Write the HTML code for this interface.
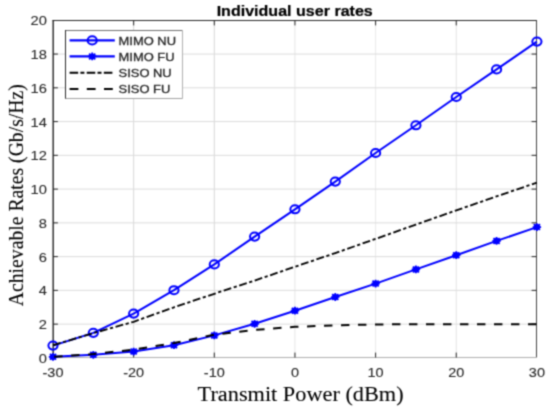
<!DOCTYPE html>
<html><head><meta charset="utf-8"><title>Individual user rates</title>
<style>html,body{margin:0;padding:0;background:#fff;width:550px;height:409px;overflow:hidden}svg{display:block}</style>
</head><body>
<svg width="550" height="409" viewBox="0 0 550 409">
<defs><filter id="bl" color-interpolation-filters="sRGB" x="0" y="0" width="550" height="409" filterUnits="userSpaceOnUse"><feConvolveMatrix order="3" kernelMatrix="1 3 1 3 9 3 1 3 1" divisor="25" edgeMode="duplicate"/></filter></defs>
<g filter="url(#bl)">
<rect width="550" height="409" fill="#fff"/>
<path d="M133.65 20.5V357.5" stroke="#d8d8d8" stroke-width="1"/>
<path d="M214.30 20.5V357.5" stroke="#d8d8d8" stroke-width="1"/>
<path d="M294.95 20.5V357.5" stroke="#e6e6e6" stroke-width="1"/>
<path d="M375.60 20.5V357.5" stroke="#ebebeb" stroke-width="1"/>
<path d="M456.25 20.5V357.5" stroke="#e4e4e4" stroke-width="1"/>
<path d="M53.0 324.14H536.5M53.0 290.38H536.5M53.0 256.62H536.5M53.0 222.86H536.5M53.0 189.10H536.5M53.0 155.34H536.5M53.0 121.58H536.5M53.0 87.82H536.5M53.0 54.06H536.5" stroke="#dcdcdc" stroke-width="1" fill="none"/>
<path d="M52.4 20.5H537.0" stroke="#2b2b2b" stroke-width="1"/>
<path d="M53.15 20.5V357.5" stroke="#000" stroke-width="1.2"/>
<path d="M536.5 20.5V357.5" stroke="#464646" stroke-width="1"/>
<path d="M53.0 357.5H536.5" stroke="#b1b1b1" stroke-width="1"/>
<path d="M133.65 357.5v-4.9M133.65 20.5v4.9M214.30 357.5v-4.9M214.30 20.5v4.9M294.95 357.5v-4.9M294.95 20.5v4.9M375.60 357.5v-4.9M375.60 20.5v4.9M456.25 357.5v-4.9M456.25 20.5v4.9M53.0 324.14h4.9M536.5 324.14h-4.9M53.0 290.38h4.9M536.5 290.38h-4.9M53.0 256.62h4.9M536.5 256.62h-4.9M53.0 222.86h4.9M536.5 222.86h-4.9M53.0 189.10h4.9M536.5 189.10h-4.9M53.0 155.34h4.9M536.5 155.34h-4.9M53.0 121.58h4.9M536.5 121.58h-4.9M53.0 87.82h4.9M536.5 87.82h-4.9M53.0 54.06h4.9M536.5 54.06h-4.9" stroke="#262626" stroke-width="1" fill="none"/>
<path d="M53.00 345.60 93.32 332.85 133.65 313.60 173.97 290.20 214.30 264.40 254.62 236.60 294.95 209.30 335.27 181.60 375.60 153.00 415.92 125.30 456.25 97.00 496.57 69.40 536.90 41.60" stroke="#0000ff" stroke-width="2" fill="none" stroke-linejoin="round"/>
<g stroke="#0000ff" stroke-width="2.0" fill="none"><ellipse cx="53.00" cy="345.60" rx="4.6" ry="4.05"/><ellipse cx="93.32" cy="332.85" rx="4.6" ry="4.05"/><ellipse cx="133.65" cy="313.60" rx="4.6" ry="4.05"/><ellipse cx="173.97" cy="290.20" rx="4.6" ry="4.05"/><ellipse cx="214.30" cy="264.40" rx="4.6" ry="4.05"/><ellipse cx="254.62" cy="236.60" rx="4.6" ry="4.05"/><ellipse cx="294.95" cy="209.30" rx="4.6" ry="4.05"/><ellipse cx="335.27" cy="181.60" rx="4.6" ry="4.05"/><ellipse cx="375.60" cy="153.00" rx="4.6" ry="4.05"/><ellipse cx="415.92" cy="125.30" rx="4.6" ry="4.05"/><ellipse cx="456.25" cy="97.00" rx="4.6" ry="4.05"/><ellipse cx="496.57" cy="69.40" rx="4.6" ry="4.05"/><ellipse cx="536.90" cy="41.60" rx="4.6" ry="4.05"/></g>
<path d="M53.00 356.80 93.32 354.80 133.65 351.60 173.97 345.20 214.30 335.40 254.62 323.80 294.95 310.70 335.27 297.00 375.60 283.60 415.92 269.40 456.25 255.20 496.57 240.90 536.90 227.10" stroke="#0000ff" stroke-width="2" fill="none" stroke-linejoin="round"/>
<path d="M48.80 356.80h8.40M53.00 352.90v7.80M49.89 353.91L56.11 359.69M49.89 359.69L56.11 353.91M89.12 354.80h8.40M93.32 350.90v7.80M90.22 351.91L96.43 357.69M90.22 357.69L96.43 351.91M129.45 351.60h8.40M133.65 347.70v7.80M130.54 348.71L136.76 354.49M130.54 354.49L136.76 348.71M169.78 345.20h8.40M173.97 341.30v7.80M170.87 342.31L177.08 348.09M170.87 348.09L177.08 342.31M210.10 335.40h8.40M214.30 331.50v7.80M211.19 332.51L217.41 338.29M211.19 338.29L217.41 332.51M250.43 323.80h8.40M254.62 319.90v7.80M251.52 320.91L257.73 326.69M251.52 326.69L257.73 320.91M290.75 310.70h8.40M294.95 306.80v7.80M291.84 307.81L298.06 313.59M291.84 313.59L298.06 307.81M331.07 297.00h8.40M335.27 293.10v7.80M332.17 294.11L338.38 299.89M332.17 299.89L338.38 294.11M371.40 283.60h8.40M375.60 279.70v7.80M372.49 280.71L378.71 286.49M372.49 286.49L378.71 280.71M411.72 269.40h8.40M415.92 265.50v7.80M412.82 266.51L419.03 272.29M412.82 272.29L419.03 266.51M452.05 255.20h8.40M456.25 251.30v7.80M453.14 252.31L459.36 258.09M453.14 258.09L459.36 252.31M492.38 240.90h8.40M496.57 237.00v7.80M493.47 238.01L499.68 243.79M493.47 243.79L499.68 238.01M532.70 227.10h8.40M536.90 223.20v7.80M533.79 224.21L540.01 229.99M533.79 229.99L540.01 224.21" stroke="#0000ff" stroke-width="1.7" fill="none"/>
<g fill="#0000ff"><ellipse cx="53.00" cy="356.80" rx="3.3" ry="3.1"/><ellipse cx="93.32" cy="354.80" rx="3.3" ry="3.1"/><ellipse cx="133.65" cy="351.60" rx="3.3" ry="3.1"/><ellipse cx="173.97" cy="345.20" rx="3.3" ry="3.1"/><ellipse cx="214.30" cy="335.40" rx="3.3" ry="3.1"/><ellipse cx="254.62" cy="323.80" rx="3.3" ry="3.1"/><ellipse cx="294.95" cy="310.70" rx="3.3" ry="3.1"/><ellipse cx="335.27" cy="297.00" rx="3.3" ry="3.1"/><ellipse cx="375.60" cy="283.60" rx="3.3" ry="3.1"/><ellipse cx="415.92" cy="269.40" rx="3.3" ry="3.1"/><ellipse cx="456.25" cy="255.20" rx="3.3" ry="3.1"/><ellipse cx="496.57" cy="240.90" rx="3.3" ry="3.1"/><ellipse cx="536.90" cy="227.10" rx="3.3" ry="3.1"/></g>
<path d="M53.00 345.24 93.32 333.09 133.65 321.78 173.97 307.26 214.30 293.76 254.62 280.59 294.95 266.75 335.27 253.08 375.60 238.90 415.92 224.55 456.25 210.37 496.57 196.36 536.90 182.69" stroke="#000" stroke-width="1.85" fill="none" stroke-dasharray="7.9 2.6 3.2 2.6"/>
<path d="M53.00 356.89 93.32 354.02 133.65 349.63 173.97 343.05 214.30 334.61 254.62 329.88 294.95 326.84 335.27 325.32 375.60 324.48 415.92 324.14 456.25 324.14 496.57 324.14 536.90 324.14" stroke="#000" stroke-width="2" fill="none" stroke-dasharray="8.4 8.6" stroke-dashoffset="-1.2"/>
<text transform="translate(53.00 376.7) scale(1.09 1)" text-anchor="middle" font-family="'Liberation Sans', Arial, Helvetica, sans-serif" font-size="13.3" fill="#262626" stroke="#262626" stroke-width="0.1">-30</text>
<text transform="translate(133.65 376.7) scale(1.09 1)" text-anchor="middle" font-family="'Liberation Sans', Arial, Helvetica, sans-serif" font-size="13.3" fill="#262626" stroke="#262626" stroke-width="0.1">-20</text>
<text transform="translate(214.30 376.7) scale(1.09 1)" text-anchor="middle" font-family="'Liberation Sans', Arial, Helvetica, sans-serif" font-size="13.3" fill="#262626" stroke="#262626" stroke-width="0.1">-10</text>
<text transform="translate(294.95 376.7) scale(1.09 1)" text-anchor="middle" font-family="'Liberation Sans', Arial, Helvetica, sans-serif" font-size="13.3" fill="#262626" stroke="#262626" stroke-width="0.1">0</text>
<text transform="translate(375.60 376.7) scale(1.09 1)" text-anchor="middle" font-family="'Liberation Sans', Arial, Helvetica, sans-serif" font-size="13.3" fill="#262626" stroke="#262626" stroke-width="0.1">10</text>
<text transform="translate(456.25 376.7) scale(1.09 1)" text-anchor="middle" font-family="'Liberation Sans', Arial, Helvetica, sans-serif" font-size="13.3" fill="#262626" stroke="#262626" stroke-width="0.1">20</text>
<text transform="translate(536.90 376.7) scale(1.09 1)" text-anchor="middle" font-family="'Liberation Sans', Arial, Helvetica, sans-serif" font-size="13.3" fill="#262626" stroke="#262626" stroke-width="0.1">30</text>
<text transform="translate(46.9 362.90) scale(1.115 1)" text-anchor="end" font-family="'Liberation Sans', Arial, Helvetica, sans-serif" font-size="13.2" fill="#262626" stroke="#262626" stroke-width="0.08">0</text>
<text transform="translate(46.9 329.14) scale(1.115 1)" text-anchor="end" font-family="'Liberation Sans', Arial, Helvetica, sans-serif" font-size="13.2" fill="#262626" stroke="#262626" stroke-width="0.08">2</text>
<text transform="translate(46.9 295.38) scale(1.115 1)" text-anchor="end" font-family="'Liberation Sans', Arial, Helvetica, sans-serif" font-size="13.2" fill="#262626" stroke="#262626" stroke-width="0.08">4</text>
<text transform="translate(46.9 261.62) scale(1.115 1)" text-anchor="end" font-family="'Liberation Sans', Arial, Helvetica, sans-serif" font-size="13.2" fill="#262626" stroke="#262626" stroke-width="0.08">6</text>
<text transform="translate(46.9 227.86) scale(1.115 1)" text-anchor="end" font-family="'Liberation Sans', Arial, Helvetica, sans-serif" font-size="13.2" fill="#262626" stroke="#262626" stroke-width="0.08">8</text>
<text transform="translate(46.9 194.10) scale(1.115 1)" text-anchor="end" font-family="'Liberation Sans', Arial, Helvetica, sans-serif" font-size="13.2" fill="#262626" stroke="#262626" stroke-width="0.08">10</text>
<text transform="translate(46.9 160.34) scale(1.115 1)" text-anchor="end" font-family="'Liberation Sans', Arial, Helvetica, sans-serif" font-size="13.2" fill="#262626" stroke="#262626" stroke-width="0.08">12</text>
<text transform="translate(46.9 126.58) scale(1.115 1)" text-anchor="end" font-family="'Liberation Sans', Arial, Helvetica, sans-serif" font-size="13.2" fill="#262626" stroke="#262626" stroke-width="0.08">14</text>
<text transform="translate(46.9 92.82) scale(1.115 1)" text-anchor="end" font-family="'Liberation Sans', Arial, Helvetica, sans-serif" font-size="13.2" fill="#262626" stroke="#262626" stroke-width="0.08">16</text>
<text transform="translate(46.9 59.06) scale(1.115 1)" text-anchor="end" font-family="'Liberation Sans', Arial, Helvetica, sans-serif" font-size="13.2" fill="#262626" stroke="#262626" stroke-width="0.08">18</text>
<text transform="translate(46.9 25.30) scale(1.115 1)" text-anchor="end" font-family="'Liberation Sans', Arial, Helvetica, sans-serif" font-size="13.2" fill="#262626" stroke="#262626" stroke-width="0.08">20</text>
<text transform="translate(294.7 16.3) scale(1.115 1)" text-anchor="middle" font-family="'Liberation Sans', Arial, Helvetica, sans-serif" font-size="14.4" font-weight="bold" fill="#000" stroke="#000" stroke-width="0.2">Individual user rates</text>
<text transform="translate(300.6 401.0) scale(1.115 1)" text-anchor="middle" font-family="'Liberation Serif', 'Times New Roman', serif" font-size="20" fill="#000" stroke="#000" stroke-width="0.08">Transmit Power (dBm)</text>
<text transform="translate(22.7 195.2) scale(1.115 1) rotate(-90)" text-anchor="middle" font-family="'Liberation Serif', 'Times New Roman', serif" font-size="19.7" fill="#000" stroke="#000" stroke-width="0.1">Achievable Rates (Gb/s/Hz)</text>
<rect x="65.5" y="30.5" width="117.0" height="68.0" fill="#fff"/>
<path d="M65.5 30.5H182.5" stroke="#717171" stroke-width="1"/>
<path d="M65.5 30.0V99.0" stroke="#2b2b2b" stroke-width="1"/>
<path d="M182.5 30.5V98.5" stroke="#b1b1b1" stroke-width="1"/>
<path d="M65.5 98.5H182.5" stroke="#a3a3a3" stroke-width="1"/>
<path d="M69.6 40.4H114.8M69.6 56.4H114.8" stroke="#0000ff" stroke-width="2.2" fill="none"/>
<ellipse cx="92.2" cy="40.4" rx="4.6" ry="4.05" stroke="#0000ff" stroke-width="2.0" fill="none"/>
<path d="M88.00 56.40h8.40M92.20 52.50v7.80M89.09 53.51L95.31 59.29M89.09 59.29L95.31 53.51" stroke="#0000ff" stroke-width="1.7" fill="none"/>
<ellipse cx="92.2" cy="56.4" rx="3.0" ry="2.9" fill="#0000ff"/>
<path d="M69.6 72.7H114.3" stroke="#000" stroke-width="2" fill="none" stroke-dasharray="8.6 2.2 4.0 2.3"/>
<path d="M69.6 88.9H114.8" stroke="#000" stroke-width="2" fill="none" stroke-dasharray="8.8 8.4"/>
<text transform="translate(118.6 44.60) scale(1.115 1)" font-family="'Liberation Sans', Arial, Helvetica, sans-serif" font-size="11.6" fill="#262626" stroke="#262626" stroke-width="0.3">MIMO NU</text>
<text transform="translate(118.6 60.60) scale(1.115 1)" font-family="'Liberation Sans', Arial, Helvetica, sans-serif" font-size="11.6" fill="#262626" stroke="#262626" stroke-width="0.3">MIMO FU</text>
<text transform="translate(118.6 76.90) scale(1.115 1)" font-family="'Liberation Sans', Arial, Helvetica, sans-serif" font-size="11.6" fill="#262626" stroke="#262626" stroke-width="0.3">SISO NU</text>
<text transform="translate(118.6 93.10) scale(1.115 1)" font-family="'Liberation Sans', Arial, Helvetica, sans-serif" font-size="11.6" fill="#262626" stroke="#262626" stroke-width="0.3">SISO FU</text>
</g>
</svg>
</body></html>
